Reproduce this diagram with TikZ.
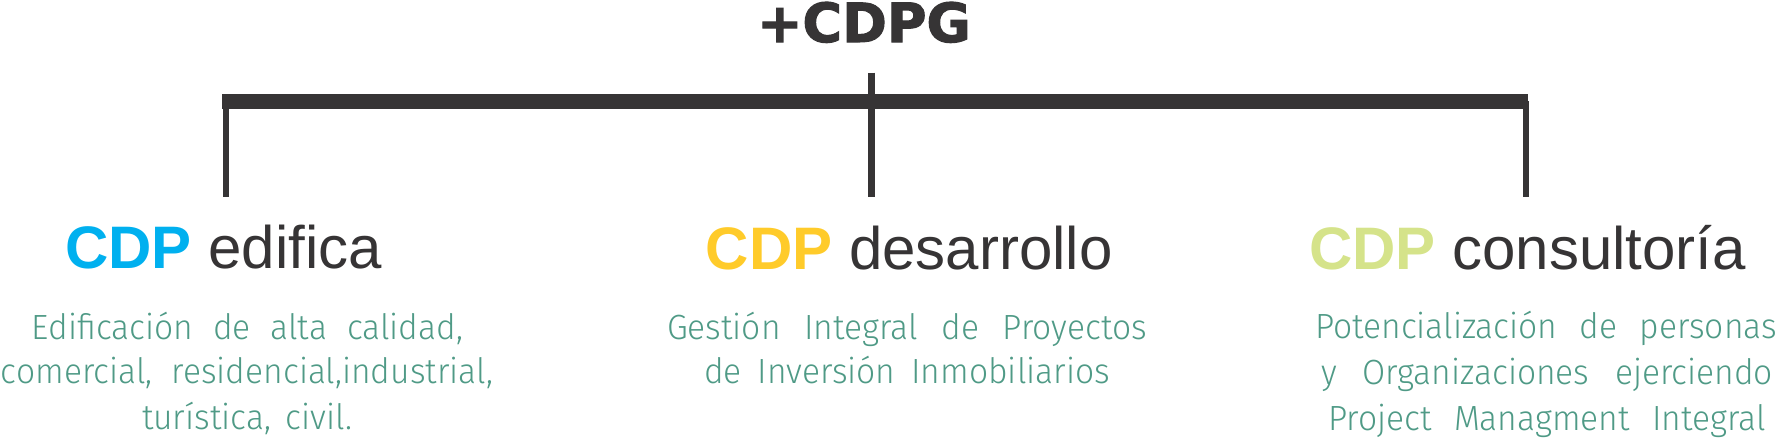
\documentclass[tikz,border=0pt]{standalone}
\usepackage{fontspec}
\setmainfont{Liberation Sans}
\newfontfamily\titlefont{DejaVu Sans}[BoldFeatures={FakeBold=2}]
\newfontfamily\descfont{Fira Sans Light}[FakeStretch=0.96]
\definecolor{dark}{HTML}{363435}
\definecolor{cdpblue}{HTML}{00B0EF}
\definecolor{cdpyellow}{HTML}{FFCB2A}
\definecolor{cdpgreen}{HTML}{D5E38A}
\definecolor{teal}{HTML}{4F9A86}
\tikzset{
  txt/.style={inner sep=0pt, outer sep=0pt, anchor=base west},
  headtxt/.style={txt, text=dark, font=\fontsize{30pt}{36pt}\selectfont},
  desctxt/.style={txt, text=teal, font=\descfont\fontsize{17.5pt}{21pt}\selectfont},
  bar/.style={draw=dark, line width=7.5pt},
  tick/.style={draw=dark, line width=3pt}
}
\begin{document}
\begin{tikzpicture}[x=0.5pt,y=-0.5pt]
\useasboundingbox (0,0) rectangle (1780,439);
% title
\node[txt, anchor=base, text=dark, font=\titlefont\bfseries\fontsize{27pt}{31pt}\selectfont] (title) at (864,42) {+CDPG};
% bracket
\coordinate (barL) at (222.3,101.7);
\coordinate (barR) at (1528.3,101.7);
\coordinate (midTop) at (871.3,72.7);
\coordinate (midBot) at (871.3,196.7);
\coordinate (leftTop) at (226.3,101);
\coordinate (leftBot) at (226.3,196.7);
\coordinate (rightTop) at (1525.5,101);
\coordinate (rightBot) at (1525.5,196.7);
\draw[bar] (barL) -- (barR);
\draw[tick] (leftTop) -- (leftBot);
\draw[tick, line width=3.5pt] (midTop) -- (midBot);
\draw[tick] (rightTop) -- (rightBot);
% headings
\node[headtxt] (h1) at (65,268) {{\bfseries\color{cdpblue}CDP} edifica};
\node[headtxt] (h2) at (705.7,269) {{\bfseries\color{cdpyellow}CDP} desarrollo};
\node[headtxt] (h3) at (1309,269) {{\bfseries\color{cdpgreen}CDP} consultoría};
% descriptions
\node[desctxt] (d1a) at (32,339) {\makebox[215.5pt][s]{Edificación de alta calidad,}};
\node[desctxt] (d1b) at (1,383) {\makebox[246pt][s]{comercial, residencial,industrial,}};
\node[desctxt] (d1c) at (142,429) {\makebox[105pt][s]{turística, civil.}};
\node[desctxt] (d2a) at (667,339) {\makebox[240pt][s]{Gestión Integral de Proyectos}};
\node[desctxt] (d2b) at (704,383) {\makebox[203pt][s]{de Inversión Inmobiliarios}};
\node[desctxt] (d3a) at (1315,338) {\makebox[231pt][s]{Potencialización de personas}};
\node[desctxt] (d3b) at (1321,384) {\makebox[226pt][s]{y Organizaciones ejerciendo}};
\node[desctxt] (d3c) at (1328,430) {\makebox[219pt][s]{Project Managment Integral}};
\end{tikzpicture}
\end{document}
